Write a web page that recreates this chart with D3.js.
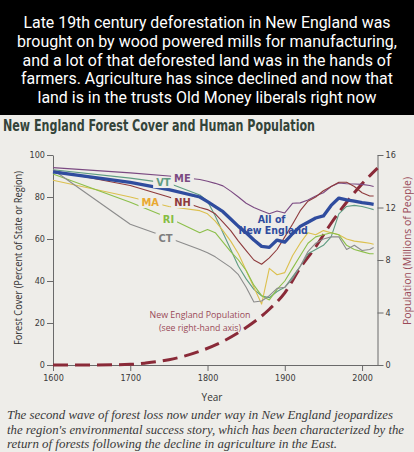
<!DOCTYPE html>
<html><head><meta charset="utf-8">
<script src="https://cdn.jsdelivr.net/npm/d3@7"></script>
<style>
html,body{margin:0;padding:0;background:#000;}
svg{display:block;}
</style></head>
<body>
<svg id="chart" width="414" height="452"></svg>
<script>
// ---------- DATA ----------
const years = [1600,1700,1750,1790,1800,1810,1820,1830,1840,1850,1860,1870,1880,1890,1900,1910,1920,1930,1940,1950,1960,1970,1980,1990,2000,2010,2015];
const allNE = [92,87,83.5,80,77.8,75.4,73,69.5,66,63,59.5,56.5,56,59.5,58.5,62.5,66,68,70,71,76,79.5,78.6,78,77.3,76.8,76.5];
const ME = [94,91.5,90,88.3,87.5,86.5,85.3,82.8,80,77,75,73.5,72,73.3,72.4,77,77.2,78.6,80.5,82,85,86.7,86.3,86.2,86,85.5,85];
const VT = [93,89,86.5,81,78,71,63,55,47,41,36,33,32,35,37,42,47,53,55,57,61,72,75.5,76,75.5,74.5,74];
const NH = [92.5,85.5,80,75,74,72,68,64,59,54.5,50,48,51,55,61,67,73.5,78,80,83,85,87,87,85,82,80.5,80.5];
const MA = [88,80,75.5,73.5,72,68.5,64,59,53,45,37,29,46,43,44,52,58,63,62,64,63,62,60,59,58.5,58,57.5];
const RI = [91,77.5,70,63,64.5,63,58.5,54,50,45,38,33,31,36,40,46,52,58,61,62,63,62,57,55,54,53,53];
const CT = [93,67,60.5,55,53.5,51.5,49,46.5,43,37,30,30.5,33,36.5,37,41,47,54,58,60,61,61,55,57,54.5,55,56];
const popYears = [1600,1650,1700,1720,1750,1790,1820,1850,1880,1900,1920,1940,1960,1980,2000,2020];
const popMillions = [0,0,0.05,0.15,0.4,1.05,1.8,2.85,4.25,5.5,7.4,9.0,10.8,12.4,13.8,15.0];
const leftTicks = [0,20,40,60,80,100];
const rightTicks = [0,4,8,12,16];
const yearTicks = [1600,1700,1800,1900,2000];
const stateNames = ["ME","VT","MA","NH","RI","CT"];
const stateValues = [ME,VT,MA,NH,RI,CT];

// ---------- STYLE / LAYOUT ----------
const colors = {ME:"#7b4a82",VT:"#5f9c82",MA:"#dcc04e",NH:"#8e3a3c",RI:"#8cbf4a",CT:"#8c8c8c"};
const labelColors = {ME:"#7b4a82",VT:"#5f9c82",MA:"#e9a832",NH:"#8e3a3c",RI:"#86bd42",CT:"#7e7e7e"};
const labelPos = {ME:[1767.5,89.0],VT:[1742.8,87.1],MA:[1725.9,77.6],NH:[1767.5,77.6],RI:[1749.4,69.5],CT:[1745.6,60.5]};
const bg = "#eeede9";
const narrow = "'Liberation Sans Narrow','DejaVu Sans Condensed','Roboto',sans-serif";

const svg = d3.select("#chart");
svg.append("rect").attr("x",0).attr("y",0).attr("width",414).attr("height",115).attr("fill","#000");
svg.append("rect").attr("x",0).attr("y",115).attr("width",414).attr("height",337).attr("fill",bg);

// top white text
const topLines = [
 "Late 19th century deforestation in New England was",
 "brought on by wood powered mills for manufacturing,",
 "and a lot of that deforested land was in the hands of",
 "farmers. Agriculture has since declined and now that",
 "land is in the trusts Old Money liberals right now"];
const topWidths = [367,380,369,372,339];
topLines.forEach((t,i)=>{
  svg.append("text").attr("x",207).attr("y",28+i*18.8).attr("text-anchor","middle")
    .attr("fill","#fff").attr("font-family","Roboto,'Open Sans',sans-serif").attr("font-size",16.5)
    .attr("textLength",topWidths[i]).attr("lengthAdjust","spacingAndGlyphs").text(t);
});

// title
svg.append("text").attr("x",3).attr("y",131).attr("fill","#34443a")
  .attr("font-family",narrow).attr("font-weight","bold").attr("font-size",16)
  .attr("textLength",312).attr("lengthAdjust","spacingAndGlyphs")
  .text("New England Forest Cover and Human Population");

// scales
const x = d3.scaleLinear().domain([1600,2020]).range([53,377.5]);
const yL = d3.scaleLinear().domain([0,100]).range([365,155]);
const yR = d3.scaleLinear().domain([0,16]).range([365,155]);

const axisColor = "#6a6a6a";
function styleAxis(g){
  g.selectAll("path,line").attr("stroke",axisColor).attr("stroke-width",1);
  g.selectAll("text").attr("fill","#3a3a3a").attr("font-family",narrow).attr("font-size",9);
}
svg.append("g").attr("transform","translate(53,0)")
  .call(d3.axisLeft(yL).tickValues(leftTicks).tickSize(6).tickSizeOuter(0).tickPadding(2))
  .call(styleAxis);
svg.append("g").attr("transform","translate(377.5,0)")
  .call(d3.axisRight(yR).tickValues(rightTicks).tickSize(6).tickSizeOuter(0).tickPadding(2))
  .call(styleAxis);
svg.append("g").attr("transform","translate(0,365)")
  .call(d3.axisBottom(x).tickValues(yearTicks).tickFormat(d3.format("d")).tickSize(6).tickSizeOuter(0).tickPadding(4))
  .call(styleAxis);

// axis titles
svg.append("text").attr("transform","translate(22,258) rotate(-90)").attr("text-anchor","middle")
  .attr("fill","#333").attr("font-family","'Open Sans',sans-serif").attr("font-size",10)
  .attr("textLength",174).attr("lengthAdjust","spacingAndGlyphs")
  .text("Forest Cover (Percent of State or Region)");
svg.append("text").attr("transform","translate(411,251) rotate(-90)").attr("text-anchor","middle")
  .attr("fill","#9a4a58").attr("font-family","'Open Sans',sans-serif").attr("font-size",10)
  .attr("textLength",148).attr("lengthAdjust","spacingAndGlyphs")
  .text("Population (Millions of People)");
svg.append("text").attr("x",212).attr("y",401).attr("text-anchor","middle")
  .attr("fill","#333").attr("font-family","'Open Sans',sans-serif").attr("font-size",10).text("Year");

// population dashed line
const popLine = d3.line().x((d,i)=>x(popYears[i])).y(d=>yR(d)).curve(d3.curveMonotoneX);
svg.append("path").datum(popMillions).attr("d",popLine).attr("fill","none")
  .attr("stroke","#8a2a38").attr("stroke-width",3).attr("stroke-dasharray","15,7");

// state lines
const line = d3.line().x((d,i)=>x(years[i])).y(d=>yL(d));
stateNames.forEach((n,k)=>{
  svg.append("path").datum(stateValues[k]).attr("d",line).attr("fill","none")
    .attr("stroke",colors[n]).attr("stroke-width",1.1).attr("stroke-linejoin","round");
});
// all of New England
svg.append("path").datum(allNE).attr("d",line).attr("fill","none")
  .attr("stroke","#2f4c9e").attr("stroke-width",3.3).attr("stroke-linejoin","round");

// state labels with background to break lines
stateNames.forEach(n=>{
  const [yr,v] = labelPos[n];
  const g = svg.append("g").attr("transform",`translate(${x(yr)},${yL(v)})`);
  const t = g.append("text").attr("text-anchor","middle").attr("dy","0.36em")
    .attr("fill",labelColors[n]).attr("font-family",narrow).attr("font-weight","bold")
    .attr("font-size",11).text(n);
  const b = t.node().getBBox();
  g.insert("rect","text").attr("x",b.x-3).attr("y",b.y+1).attr("width",b.width+6).attr("height",b.height-2).attr("fill",bg);
});

// All of New England label
const allLab = [["All of",1883,69.5],["New England",1885,64]];
allLab.forEach(([t,yr,v])=>{
  svg.append("text").attr("x",x(yr)).attr("y",yL(v)).attr("text-anchor","middle").attr("dy","0.36em")
    .attr("fill","#2f4c9e").attr("font-family",narrow).attr("font-weight","bold").attr("font-size",10.5)
    .text(t);
});

// population annotation
svg.append("text").attr("x",200).attr("y",317.5).attr("text-anchor","middle")
  .attr("fill","#9a4a58").attr("font-family","'Open Sans',sans-serif").attr("font-size",9.5)
  .attr("textLength",101).attr("lengthAdjust","spacingAndGlyphs").text("New England Population");
svg.append("text").attr("x",200).attr("y",331).attr("text-anchor","middle")
  .attr("fill","#9a4a58").attr("font-family","'Open Sans',sans-serif").attr("font-size",9.5)
  .attr("textLength",82).attr("lengthAdjust","spacingAndGlyphs").text("(see right-hand axis)");

// caption
const capLines = [
 "The second wave of forest loss now under way in New England jeopardizes",
 "the region's environmental success story, which has been characterized by the",
 "return of forests following the decline in agriculture in the East."];
const capWidths = [386,397,330];
capLines.forEach((t,i)=>{
  svg.append("text").attr("x",7).attr("y",419+i*14.5).attr("fill","#3a3a3a")
    .attr("font-family","'Liberation Serif','DejaVu Serif',serif").attr("font-style","italic").attr("font-size",12.6)
    .attr("textLength",capWidths[i]).attr("lengthAdjust","spacingAndGlyphs").text(t);
});
</script>
</body></html>
